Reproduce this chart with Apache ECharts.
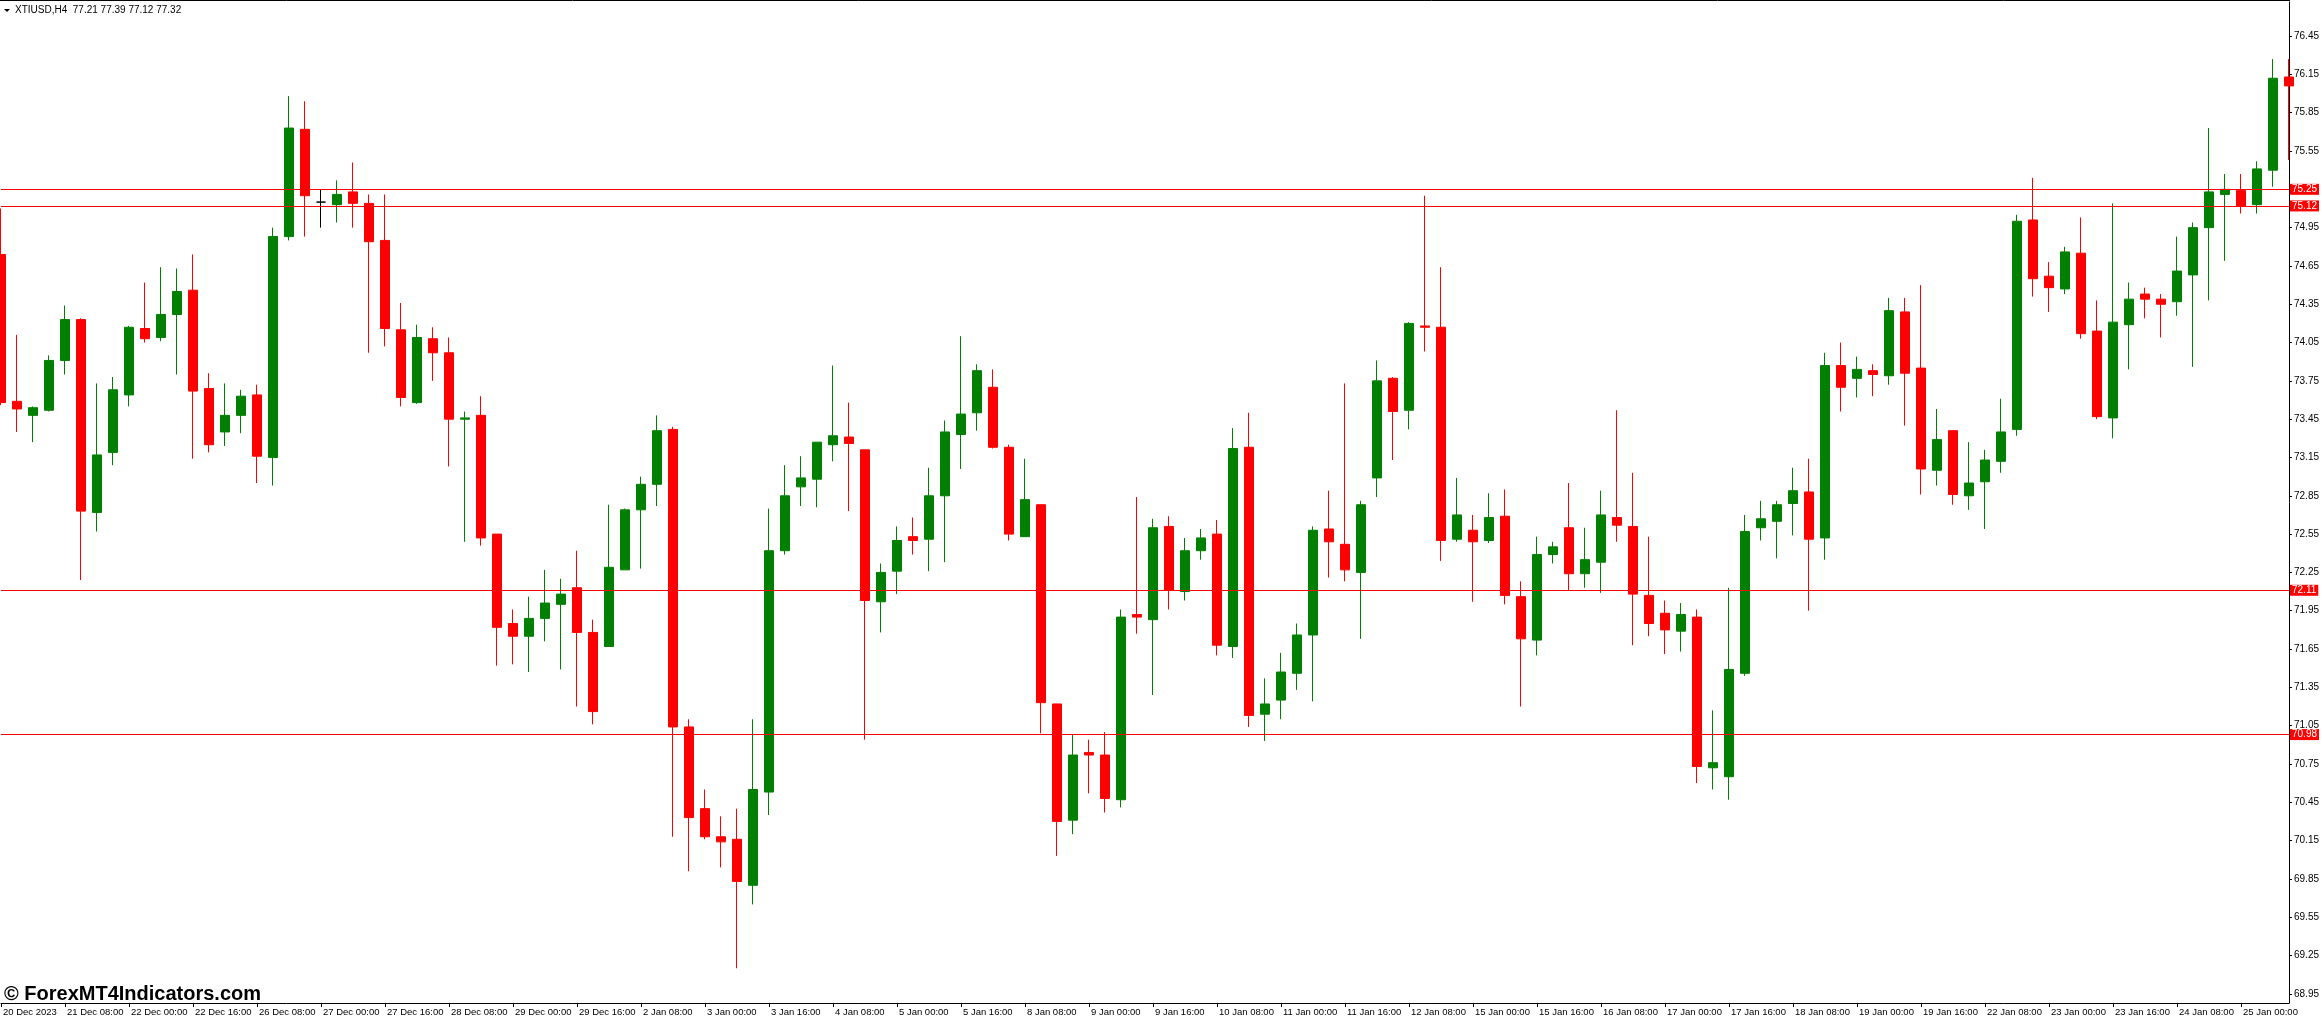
<!DOCTYPE html>
<html><head><meta charset="utf-8">
<script src="https://cdn.jsdelivr.net/npm/echarts@6/dist/echarts.min.js"></script>
<style>html,body{margin:0;padding:0;background:#fff;}#c{width:2322px;height:1019px;}</style>
</head><body><div id="c"></div>
<script>
const tickLabels = ['20 Dec 2023','21 Dec 08:00','22 Dec 00:00','22 Dec 16:00','26 Dec 08:00','27 Dec 00:00','27 Dec 16:00','28 Dec 08:00','29 Dec 00:00','29 Dec 16:00','2 Jan 08:00','3 Jan 00:00','3 Jan 16:00','4 Jan 08:00','5 Jan 00:00','5 Jan 16:00','8 Jan 08:00','9 Jan 00:00','9 Jan 16:00','10 Jan 08:00','11 Jan 00:00','11 Jan 16:00','12 Jan 08:00','15 Jan 00:00','15 Jan 16:00','16 Jan 08:00','17 Jan 00:00','17 Jan 16:00','18 Jan 08:00','19 Jan 00:00','19 Jan 16:00','22 Jan 08:00','23 Jan 00:00','23 Jan 16:00','24 Jan 08:00','25 Jan 00:00'];

const openP = [74.74,73.59,73.48,73.52,73.91,74.23,72.72,73.19,73.64,74.16,74.09,74.27,74.46,73.69,73.35,73.48,73.64,73.15,74.88,75.72,75.15,75.13,75.23,75.14,
74.85,74.15,73.58,74.08,73.97,73.45,73.48,72.55,71.85,71.75,71.89,72.00,72.13,71.78,71.67,72.27,72.74,72.94,73.37,71.04,70.40,70.18,70.16,69.80,
70.53,72.42,72.92,72.98,73.25,73.31,73.21,72.02,72.26,72.53,72.51,72.85,73.33,73.50,73.70,73.23,72.53,72.78,71.22,70.31,70.84,70.82,70.47,71.92,
71.88,72.61,72.10,72.42,72.55,71.67,73.23,71.14,71.25,71.46,71.76,72.59,72.47,72.25,72.99,73.77,73.52,74.18,74.17,72.51,72.58,72.50,72.69,72.06,
71.72,72.39,72.60,72.24,72.33,72.68,72.61,72.07,71.93,71.79,71.90,70.72,70.65,71.46,72.60,72.65,72.79,72.88,72.52,73.87,73.77,73.83,73.79,74.29,
73.85,73.05,73.36,72.85,72.96,73.12,73.37,75.01,74.57,74.47,74.75,74.14,73.46,74.19,74.43,74.39,74.37,74.58,74.95,75.21,75.24,75.13,75.40,76.13];
const closeP = [73.58,73.53,73.54,73.91,74.23,72.73,73.17,73.68,74.17,74.08,74.27,74.45,73.67,73.25,73.48,73.63,73.16,74.88,75.73,75.20,75.15,75.21,75.14,74.84,
74.16,73.62,74.09,73.97,73.45,73.46,72.52,71.82,71.75,71.89,72.01,72.08,71.78,71.16,72.29,72.74,72.94,73.36,71.04,70.33,70.18,70.14,69.83,70.55,
72.42,72.85,72.99,73.27,73.32,73.26,72.03,72.25,72.50,72.50,72.85,73.35,73.49,73.83,73.23,72.55,72.82,71.23,70.30,70.82,70.82,70.48,71.90,71.90,
72.60,72.11,72.42,72.52,71.68,73.22,71.13,71.22,71.47,71.76,72.58,72.49,72.27,72.78,73.75,73.51,74.20,74.17,72.50,72.70,72.49,72.68,72.07,71.73,
72.39,72.45,72.24,72.35,72.70,72.62,72.08,71.85,71.80,71.92,70.73,70.76,71.49,72.57,72.67,72.78,72.89,72.51,73.87,73.70,73.84,73.80,74.30,73.81,
73.06,73.29,72.86,72.95,73.13,73.35,75.00,74.55,74.48,74.76,74.12,73.47,74.21,74.39,74.39,74.35,74.61,74.95,75.23,75.25,75.12,75.41,76.12,76.06];
const lowP = [73.56,73.35,73.27,73.51,73.80,72.19,72.57,73.09,73.55,74.05,74.06,73.80,73.14,73.19,73.24,73.34,72.95,72.93,74.85,74.88,74.95,74.99,74.95,73.97,
74.02,73.55,73.57,73.75,73.08,72.49,72.46,71.52,71.53,71.47,71.71,71.49,71.20,71.06,71.67,72.27,72.28,72.77,70.18,69.91,70.16,69.94,69.15,69.65,
70.35,72.39,72.77,72.76,73.12,72.73,70.94,71.78,72.08,72.39,72.26,72.33,73.06,73.36,73.22,72.50,72.53,70.99,70.03,70.20,70.52,70.37,70.41,71.77,
71.29,71.96,72.03,72.35,71.60,71.58,71.04,70.93,71.10,71.33,71.24,72.21,72.18,71.73,72.84,73.13,73.37,73.98,72.34,72.49,72.02,72.48,72.00,71.20,
71.60,72.32,72.11,72.13,72.09,72.49,71.68,71.75,71.61,71.63,70.60,70.55,70.47,71.44,72.50,72.36,72.54,71.95,72.35,73.51,73.62,73.63,73.72,73.40,
72.86,72.93,72.78,72.74,72.59,73.03,73.32,74.41,74.29,74.43,74.08,73.45,73.30,73.84,74.24,74.09,74.26,73.86,74.38,74.69,75.06,75.06,75.27,75.48];
const highP = [75.10,74.11,73.55,73.95,74.34,74.24,73.73,73.78,74.18,74.52,74.64,74.63,74.74,73.81,73.73,73.68,73.72,74.95,75.98,75.94,75.25,75.32,75.46,75.21,
75.21,74.36,74.19,74.17,74.09,73.51,73.63,72.55,71.96,72.06,72.27,72.20,72.42,71.88,72.78,72.75,73.00,73.48,73.39,71.10,70.55,70.34,70.40,71.10,
72.75,73.09,73.16,73.27,73.87,73.58,73.21,72.32,72.61,72.68,73.07,73.44,74.10,73.88,73.84,73.25,73.14,72.78,71.22,70.98,70.94,71.00,71.96,72.84,
72.67,72.69,72.52,72.59,72.66,73.38,73.50,71.42,71.62,71.85,72.61,72.89,73.73,72.81,73.91,73.78,74.21,75.20,74.64,72.99,72.70,72.87,72.90,72.18,
72.53,72.49,72.95,72.60,72.89,73.52,73.03,72.53,72.03,72.01,71.96,71.17,72.13,72.70,72.81,72.81,73.07,73.14,73.97,74.05,73.94,73.88,74.40,74.40,
74.50,73.53,73.36,73.27,73.21,73.61,75.05,75.34,74.68,74.80,75.03,74.38,75.14,74.52,74.48,74.43,74.88,74.99,75.73,75.37,75.37,75.47,76.27,76.27];

const yTicks = [68.95,69.25,69.55,69.85,70.15,70.45,70.75,71.05,71.35,71.65,71.95,72.25,72.55,72.85,73.15,73.45,73.75,74.05,74.35,74.65,74.95,75.25,75.55,75.85,76.15,76.45];
const levels = [75.25, 75.12, 72.11, 70.98];
const headerText = 'XTIUSD,H4  77.21 77.39 77.12 77.32';
const watermark = '\u00A9 ForexMT4Indicators.com';

const categories = openP.map((_, i) => (i % 4 === 0 ? tickLabels[i / 4] : ''));
const candles = openP.map((o, i) => {
  const v = [o, closeP[i], lowP[i], highP[i]];
  if (o === closeP[i]) {
    return { value: v, itemStyle: { color: '#000', color0: '#000', borderColor: '#000', borderColor0: '#000' } };
  }
  return v;
});

const chart = echarts.init(document.getElementById('c'), null, { renderer: 'canvas' });
chart.setOption({
  animation: false,
  backgroundColor: '#ffffff',
  grid: { left: 0, right: 32, top: 2, bottom: 16, containLabel: false },
  xAxis: {
    type: 'category', data: categories, boundaryGap: false,
    axisLine: { show: true, lineStyle: { color: '#000', width: 1 } },
    axisTick: { show: true, interval: 3, length: 4, lineStyle: { color: '#000' } },
    axisLabel: { interval: 3, align: 'left', margin: 4, padding: [0, 0, 0, 2], color: '#000', fontFamily: 'Liberation Sans', fontSize: 9.5 },
    splitLine: { show: false }
  },
  yAxis: {
    type: 'value', position: 'right', min: 68.878, max: 76.717,
    axisLine: { show: true, lineStyle: { color: '#000', width: 1 } },
    axisTick: { show: true, length: 3, customValues: yTicks, lineStyle: { color: '#000' } },
    axisLabel: { customValues: yTicks, margin: 5, color: '#000', fontSize: 10, fontFamily: 'Liberation Sans', formatter: v => v.toFixed(2) },
    splitLine: { show: false }
  },
  series: [{
    type: 'candlestick', data: candles, barWidth: 10, clip: true,
    itemStyle: { color: '#008000', color0: '#ff0000', borderColor: '#008000', borderColor0: '#ff0000', borderWidth: 1 },
    markLine: {
      silent: true, symbol: ['none', 'none'], animation: false,
      lineStyle: { color: '#ff0000', width: 1, type: 'solid' },
      label: { position: 'end', distance: 1, formatter: p => p.value.toFixed(2), color: '#fff', backgroundColor: '#ff0000', fontSize: 10, fontFamily: 'Liberation Sans', padding: [1, 2, 0, 2] },
      emphasis: { disabled: true },
      data: levels.map(v => ({ yAxis: v }))
    }
  }],
  graphic: [
    { type: 'line', shape: { x1: 0, y1: 0.5, x2: 2290, y2: 0.5 }, style: { stroke: '#000', lineWidth: 1 }, silent: true },
    { type: 'polygon', shape: { points: [[4, 9], [10, 9], [7, 12]] }, style: { fill: '#000' }, silent: true },
    { type: 'text', x: 15, y: 10.5, style: { text: headerText, fill: '#000', font: '10px "Liberation Sans"', verticalAlign: 'middle' }, silent: true },
    { type: 'text', x: 4, y: 994, style: { text: watermark, fill: '#000', font: 'bold 20px "Liberation Sans"', verticalAlign: 'middle' }, silent: true }
  ]
});
</script>
</body></html>
